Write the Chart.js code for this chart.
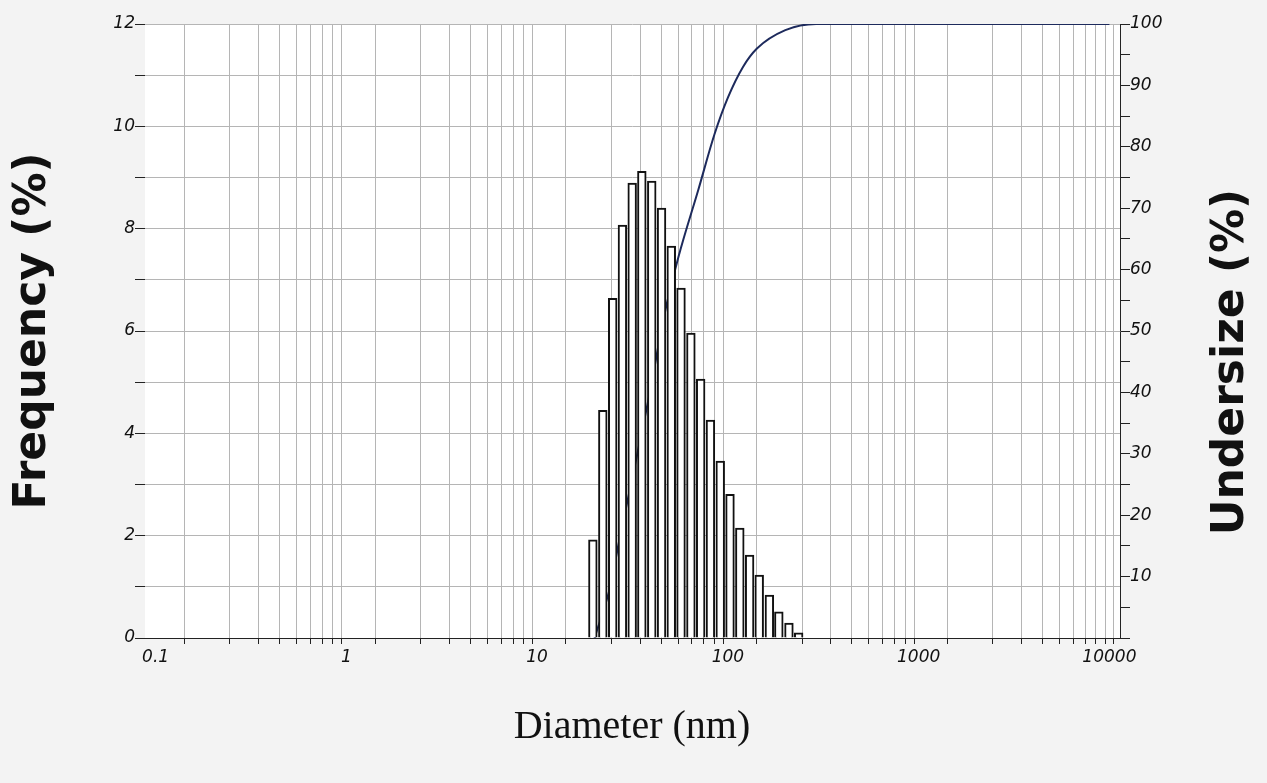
<!DOCTYPE html>
<html>
<head>
<meta charset="utf-8">
<script src="https://cdn.jsdelivr.net/npm/chart.js@4/dist/chart.umd.min.js"></script>
<style>
  html, body { margin: 0; padding: 0; background: #f3f3f3; }
  #wrap { width: 1267px; height: 783px; }
</style>
</head>
<body>
<div id="wrap"><canvas id="psd" width="1267" height="783"></canvas></div>
<script>
// bin centres (nm) and frequency (%)
const binDiameter = [19.6, 22.1, 24.9, 28.0, 31.5, 35.4, 39.9, 44.9, 50.5, 56.8, 64.0,
                     72.0, 81.0, 91.2, 102.6, 115.5, 130, 146, 165, 185, 209, 235];
const frequency = [1.92, 4.45, 6.64, 8.07, 8.89, 9.12, 8.93, 8.40, 7.66, 6.84, 5.96,
                   5.06, 4.26, 3.46, 2.81, 2.15, 1.62, 1.23, 0.84, 0.51, 0.29, 0.10];
// cumulative undersize curve (nm, %)
const underDiameter = [20, 24, 27, 32, 39, 46, 55, 70, 85, 100, 120, 142, 200, 290, 10000];
const undersize = [0, 8, 16, 27, 40, 52, 62, 73, 82, 88, 93, 96, 99, 100, 100];
const decadeLabels = ['0.1', '1', '10', '100', '1000', '10000'];

const lg = v => Math.log10(v);
const tickFont = { family: 'DejaVu Sans', size: 17, style: 'italic' };

const titles = {
  id: 'titles',
  beforeDraw(c) {
    const ctx = c.ctx, a = c.chartArea;
    ctx.save();
    ctx.fillStyle = '#fff';
    ctx.fillRect(a.left, a.top, a.right - a.left, a.bottom - a.top);
    ctx.restore();
  },
  afterDraw(c) {
    const ctx = c.ctx, a = c.chartArea;
    ctx.save();
    ctx.fillStyle = '#111';
    ctx.textAlign = 'center';
    ctx.textBaseline = 'middle';
    ctx.font = 'bold 44px "DejaVu Sans"';
    ctx.translate(34, (a.top + a.bottom) / 2);
    ctx.rotate(-Math.PI / 2);
    ctx.fillText('Frequency (%)', 0, 0);
    ctx.restore();
    ctx.save();
    ctx.fillStyle = '#111';
    ctx.textAlign = 'center';
    ctx.textBaseline = 'middle';
    ctx.font = 'bold 44px "DejaVu Sans"';
    ctx.translate(1232, 362);
    ctx.rotate(-Math.PI / 2);
    ctx.fillText('Undersize (%)', 0, 0);
    ctx.restore();
    ctx.save();
    ctx.fillStyle = '#111';
    ctx.textAlign = 'center';
    ctx.textBaseline = 'middle';
    ctx.font = '40px "Liberation Serif"';
    ctx.fillText('Diameter (nm)', 632, 727);
    ctx.restore();
  }
};

new Chart(document.getElementById('psd'), {
  data: {
    datasets: [
      {
        type: 'bar',
        data: binDiameter.map((d, i) => ({ x: lg(d), y: frequency[i] })),
        backgroundColor: '#ffffff',
        borderColor: '#111111',
        borderWidth: 2,
        barPercentage: 1,
        categoryPercentage: 1,
        yAxisID: 'y'
      },
      {
        type: 'line',
        data: underDiameter.map((d, i) => ({ x: lg(d), y: undersize[i] })),
        borderColor: '#1d2a5c',
        borderWidth: 2,
        pointRadius: 0,
        cubicInterpolationMode: 'monotone',
        yAxisID: 'y2'
      }
    ]
  },
  options: {
    responsive: false,
    animation: false,
    layout: { padding: { top: 24, left: 0, right: 0, bottom: 0 } },
    plugins: { legend: { display: false }, tooltip: { enabled: false } },
    scales: {
      x: {
        type: 'linear',
        min: -1, max: 4,
        afterBuildTicks(s) {
          const t = [];
          for (let e = -1; e < 4; e++)
            for (let k = 1; k < 10; k++) t.push({ value: e + Math.log10(k) });
          t.push({ value: 4 });
          s.ticks = t;
        },
        afterFit(s) { s.height = 145; },
        grid: { color: '#b5b5b5', lineWidth: 1, tickLength: 6, tickColor: '#222' },
        border: { display: true, color: '#222', width: 1 },
        ticks: {
          autoSkip: false, maxRotation: 0, color: '#111', font: tickFont,
          callback(v) {
            const r = Math.round(v);
            return Math.abs(v - r) < 1e-6 ? decadeLabels[r + 1] : '';
          }
        }
      },
      y: {
        position: 'left',
        min: 0, max: 12,
        afterFit(s) { s.width = 145; },
        grid: { color: '#b5b5b5', lineWidth: 1, tickLength: 10, tickColor: '#222' },
        border: { display: false },
        ticks: {
          stepSize: 1, color: '#111', font: tickFont, padding: 0,
          callback: v => (v % 2 === 0 ? v : '')
        }
      },
      y2: {
        position: 'right',
        min: 0, max: 100,
        afterFit(s) { s.width = 147; },
        grid: { drawOnChartArea: false, tickLength: 10, tickColor: '#222' },
        border: { display: true, color: '#222', width: 1 },
        ticks: {
          stepSize: 5, color: '#111', font: tickFont, padding: 0,
          callback: v => (v % 10 === 0 && v > 0 ? v : '')
        }
      }
    }
  },
  plugins: [titles]
});
</script>
</body>
</html>
